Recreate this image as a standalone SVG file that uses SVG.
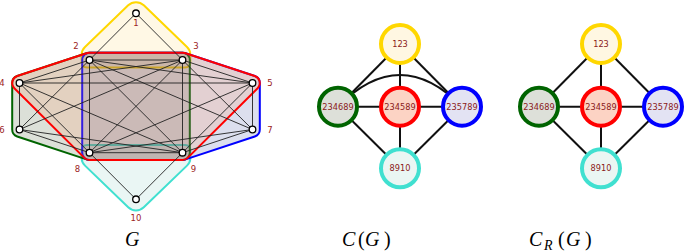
<svg xmlns="http://www.w3.org/2000/svg" width="685" height="252" viewBox="0 0 685 252">
<style>
.hull{stroke-width:2;stroke-linejoin:round}
.e{stroke:#222;stroke-width:1;stroke-opacity:0.9;fill:none}
.v{fill:#fff;stroke:#000;stroke-width:1.3}
.lb{font-family:"DejaVu Sans",sans-serif;font-size:8.5px;fill:#9b2222;text-anchor:middle}
.ce{stroke:#111;stroke-width:2;fill:none}
.cn{stroke-width:4}
.ct{font-family:"DejaVu Sans",sans-serif;font-size:8.2px;fill:#8b1a1a;text-anchor:middle}
.m{font-family:"Liberation Serif","Times New Roman",serif;font-size:20px;fill:#000}
.it{font-style:italic}
</style>
<rect width="685" height="252" fill="#fff"/>
<g id="hulls">
<path class="hull" fill="rgb(255,210,80)" fill-opacity="0.15" stroke="#FFD700" d="M128.2,5.3 A11.2,11.2 0 0 1 143.8,5.3 L187,47 Q190.3,50.2 190.3,54 V62 Q190.3,67.5 185,67.5 H87 Q81.7,67.5 81.7,62 V54 Q81.7,50.2 85,47 Z"/>
<path class="hull" fill="rgb(115,195,182)" fill-opacity="0.15" stroke="#40E0D0" d="M128.2,207.3 A11.2,11.2 0 0 0 143.8,207.3 L187,165.6 Q190.3,162.4 190.3,158.6 V150.6 Q190.3,145.1 185,145.1 H87 Q81.7,145.1 81.7,150.6 V158.6 Q81.7,162.4 85,165.6 Z"/>
<path class="hull" fill="rgb(80,100,60)" fill-opacity="0.2" stroke="#006400" d="M89.5,52.7 H182.5 A7.3,7.3 0 0 1 189.8,60 V152.7 A7.3,7.3 0 0 1 182.5,160 H89.5 A7.3,7.3 0 0 1 87.2,159.63 L17.2,136.43 A7.3,7.3 0 0 1 12.2,129.5 V83 A7.3,7.3 0 0 1 17.22,76.06 L87.22,53.06 A7.3,7.3 0 0 1 89.5,52.7 Z"/>
<path class="hull" fill="rgb(22,42,142)" fill-opacity="0.15" stroke="#0000FF" d="M89.5,52.7 H182.5 A7.3,7.3 0 0 1 184.78,53.06 L254.78,76.06 A7.3,7.3 0 0 1 259.8,83 V129.5 A7.3,7.3 0 0 1 254.8,136.43 L184.8,159.63 A7.3,7.3 0 0 1 182.5,160 H89.5 A7.3,7.3 0 0 1 82.2,152.7 V60 A7.3,7.3 0 0 1 89.5,52.7 Z"/>
<path class="hull" fill="rgb(255,148,98)" fill-opacity="0.2" stroke="#FF0000" d="M89.5,52.7 H182.5 A7.3,7.3 0 0 1 184.78,53.06 L254.78,76.06 A7.3,7.3 0 0 1 257.65,88.17 L187.65,157.87 A7.3,7.3 0 0 1 182.5,160 H89.5 A7.3,7.3 0 0 1 84.35,157.87 L14.35,88.17 A7.3,7.3 0 0 1 17.22,76.06 L87.22,53.06 A7.3,7.3 0 0 1 89.5,52.7 Z"/>
</g>
<g id="connectors">
<line class="e" x1="136" y1="13.3" x2="89.5" y2="60"/>
<line class="e" x1="136" y1="13.3" x2="182.5" y2="60"/>
<line class="e" x1="136" y1="199.3" x2="89.5" y2="152.7"/>
<line class="e" x1="136" y1="199.3" x2="182.5" y2="152.7"/>
<line class="e" x1="89.5" y1="60" x2="182.5" y2="60"/>
<line class="e" x1="89.5" y1="60" x2="89.5" y2="152.7"/>
<line class="e" x1="89.5" y1="60" x2="182.5" y2="152.7"/>
<line class="e" x1="182.5" y1="60" x2="89.5" y2="152.7"/>
<line class="e" x1="182.5" y1="60" x2="182.5" y2="152.7"/>
<line class="e" x1="89.5" y1="152.7" x2="182.5" y2="152.7"/>
<line class="e" x1="19.5" y1="83" x2="89.5" y2="60"/>
<line class="e" x1="19.5" y1="83" x2="182.5" y2="60"/>
<line class="e" x1="19.5" y1="83" x2="89.5" y2="152.7"/>
<line class="e" x1="19.5" y1="83" x2="182.5" y2="152.7"/>
<line class="e" x1="19.5" y1="83" x2="19.5" y2="129.5"/>
<line class="e" x1="19.5" y1="83" x2="252.5" y2="83"/>
<line class="e" x1="19.5" y1="129.5" x2="89.5" y2="60"/>
<line class="e" x1="19.5" y1="129.5" x2="182.5" y2="60"/>
<line class="e" x1="19.5" y1="129.5" x2="89.5" y2="152.7"/>
<line class="e" x1="19.5" y1="129.5" x2="182.5" y2="152.7"/>
<line class="e" x1="252.5" y1="83" x2="89.5" y2="60"/>
<line class="e" x1="252.5" y1="83" x2="182.5" y2="60"/>
<line class="e" x1="252.5" y1="83" x2="89.5" y2="152.7"/>
<line class="e" x1="252.5" y1="83" x2="182.5" y2="152.7"/>
<line class="e" x1="252.5" y1="83" x2="252.5" y2="129.5"/>
<line class="e" x1="252.5" y1="129.5" x2="89.5" y2="60"/>
<line class="e" x1="252.5" y1="129.5" x2="182.5" y2="60"/>
<line class="e" x1="252.5" y1="129.5" x2="89.5" y2="152.7"/>
<line class="e" x1="252.5" y1="129.5" x2="182.5" y2="152.7"/>
<line class="ce" x1="400" y1="44" x2="338" y2="106.7"/>
<line class="ce" x1="400" y1="44" x2="400" y2="106.7"/>
<line class="ce" x1="400" y1="44" x2="462" y2="106.7"/>
<line class="ce" x1="338" y1="106.7" x2="462" y2="106.7"/>
<line class="ce" x1="338" y1="106.7" x2="400" y2="168.3"/>
<line class="ce" x1="400" y1="106.7" x2="400" y2="168.3"/>
<line class="ce" x1="462" y1="106.7" x2="400" y2="168.3"/>
<path class="ce" d="M338,106.7 Q400,43.3 462,106.7"/>
<line class="ce" x1="601" y1="44" x2="539" y2="106.7"/>
<line class="ce" x1="601" y1="44" x2="601" y2="106.7"/>
<line class="ce" x1="601" y1="44" x2="663" y2="106.7"/>
<line class="ce" x1="539" y1="106.7" x2="663" y2="106.7"/>
<line class="ce" x1="539" y1="106.7" x2="601" y2="168.3"/>
<line class="ce" x1="601" y1="106.7" x2="601" y2="168.3"/>
<line class="ce" x1="663" y1="106.7" x2="601" y2="168.3"/>
</g>
<g id="n1"><circle class="v" cx="136" cy="13.3" r="3.3"/><text class="lb" x="136" y="26">1</text></g>
<g id="n2"><circle class="v" cx="89.5" cy="60" r="3.3"/><text class="lb" x="76" y="48.5">2</text></g>
<g id="n3"><circle class="v" cx="182.5" cy="60" r="3.3"/><text class="lb" x="196" y="48.5">3</text></g>
<g id="n4"><circle class="v" cx="19.5" cy="83" r="3.3"/><text class="lb" x="2" y="86">4</text></g>
<g id="n5"><circle class="v" cx="252.5" cy="83" r="3.3"/><text class="lb" x="270" y="86">5</text></g>
<g id="n6"><circle class="v" cx="19.5" cy="129.5" r="3.3"/><text class="lb" x="2" y="132.5">6</text></g>
<g id="n7"><circle class="v" cx="252.5" cy="129.5" r="3.3"/><text class="lb" x="270" y="132.5">7</text></g>
<g id="n8"><circle class="v" cx="89.5" cy="152.7" r="3.3"/><text class="lb" x="77.5" y="172">8</text></g>
<g id="n9"><circle class="v" cx="182.5" cy="152.7" r="3.3"/><text class="lb" x="193.5" y="172">9</text></g>
<g id="n10"><circle class="v" cx="136" cy="199.3" r="3.3"/><text class="lb" x="136" y="220.5">10</text></g>
<g id="c123"><circle class="cn" cx="400" cy="44" r="19" fill="#FFF7E2" stroke="#FFD700"/><text class="ct" x="400" y="47">123</text></g>
<g id="c234689"><circle class="cn" cx="338" cy="106.7" r="19" fill="#DDE0D9" stroke="#006400"/><text class="ct" x="338" y="109.7">234689</text></g>
<g id="c234589"><circle class="cn" cx="400" cy="106.7" r="19" fill="#FCD3C4" stroke="#FF0000"/><text class="ct" x="400" y="109.7">234589</text></g>
<g id="c235789"><circle class="cn" cx="462" cy="106.7" r="19" fill="#E3E3F3" stroke="#0000FF"/><text class="ct" x="462" y="109.7">235789</text></g>
<g id="c8910"><circle class="cn" cx="400" cy="168.3" r="19" fill="#EAF6F3" stroke="#40E0D0"/><text class="ct" x="400" y="171.3">8910</text></g>
<g id="r123"><circle class="cn" cx="601" cy="44" r="19" fill="#FFF7E2" stroke="#FFD700"/><text class="ct" x="601" y="47">123</text></g>
<g id="r234689"><circle class="cn" cx="539" cy="106.7" r="19" fill="#DDE0D9" stroke="#006400"/><text class="ct" x="539" y="109.7">234689</text></g>
<g id="r234589"><circle class="cn" cx="601" cy="106.7" r="19" fill="#FCD3C4" stroke="#FF0000"/><text class="ct" x="601" y="109.7">234589</text></g>
<g id="r235789"><circle class="cn" cx="663" cy="106.7" r="19" fill="#E3E3F3" stroke="#0000FF"/><text class="ct" x="663" y="109.7">235789</text></g>
<g id="r8910"><circle class="cn" cx="601" cy="168.3" r="19" fill="#EAF6F3" stroke="#40E0D0"/><text class="ct" x="601" y="171.3">8910</text></g>
<g id="captions">
<text class="m it" x="125" y="246">G</text>
<text class="m" y="246"><tspan class="it" x="342">C</tspan><tspan x="358">(</tspan><tspan class="it" x="365">G</tspan><tspan x="384">)</tspan></text>
<text class="m" y="246"><tspan class="it" x="529">C</tspan><tspan class="it" x="544" y="249.5" font-size="14">R</tspan><tspan x="558" y="246">(</tspan><tspan class="it" x="566">G</tspan><tspan x="585">)</tspan></text>
</g>
</svg>
